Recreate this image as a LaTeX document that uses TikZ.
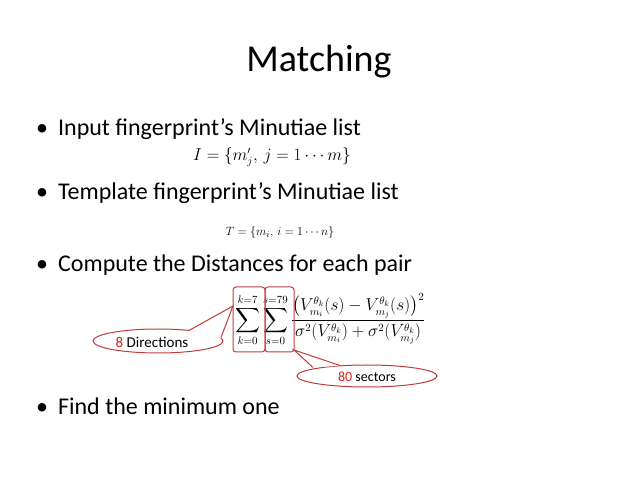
\documentclass[tikz,border=0pt]{standalone}
\usepackage{fontspec}
\setmainfont{Carlito}
\usepackage{amsmath}
\definecolor{cred}{RGB}{192,60,60}
\definecolor{tred}{RGB}{220,30,30}
\begin{document}
\begin{tikzpicture}[x=1pt,y=-1pt,
  bul/.style={anchor=west,font=\fontsize{24}{28}\selectfont,inner sep=0},
  frm/.style={inner sep=0},
  sbox/.style={draw=cred,line width=1pt,rounded corners=3pt},
  callout/.style={draw=cred,line width=1pt,fill=white}]
\useasboundingbox (0,0) rectangle (638,478);
\node[font=\fontsize{38}{44}\selectfont] (title) at (319,62) {Matching};
\node[bul] (b1) at (36,129) {•\hspace{10pt}Input fingerprint’s Minutiae list};
\node[bul] (b2) at (36,193) {•\hspace{10pt}Template fingerprint’s Minutiae list};
\node[bul] (b3) at (36,265) {•\hspace{10pt}Compute the Distances for each pair};
\node[bul] (b4) at (36,406) {•\hspace{10pt}Find the minimum one};
\node[frm,font=\fontsize{16}{18}\selectfont] (fI) at (272,157) {$I=\{m'_j,\,j=1\cdots m\}$};
\node[frm,font=\fontsize{13}{15}\selectfont] (fT) at (280,233) {$T=\{m_i,\,i=1\cdots n\}$};
\node[frm,anchor=west,font=\fontsize{16}{19}\selectfont] (fs) at (235,320)
 {$\displaystyle\sum_{k=0}^{k=7}\sum_{s=0}^{s=79}\frac{\bigl(V_{m_i}^{\theta_k}(s)-V_{m_j}^{\theta_k}(s)\bigr)^2}{\sigma^2(V_{m_i}^{\theta_k})+\sigma^2(V_{m_j}^{\theta_k})}$};
\draw[sbox] (233,287) rectangle (265,352);
\draw[sbox] (265,287) rectangle (294,352);
% callout 1
\draw[callout] (158,341) ellipse [x radius=65,y radius=12];
\coordinate (t1) at (233,306);
\fill[white] (189,331) -- (t1) -- (221,338) -- cycle;
\draw[cred,line width=1pt] (189,330.5) -- (t1) -- (221,337.5);
\node[font=\fontsize{15}{17}\selectfont] (l1) at (152,342) {\textcolor{tred}{8} Directions};
% callout 2
\draw[callout] (367,376) ellipse [x radius=70,y radius=11];
\coordinate (t2) at (294,350);
\fill[white] (313,367) -- (t2) -- (340,366) -- cycle;
\draw[cred,line width=1pt] (313,367.5) -- (t2) -- (340,365.5);
\node[font=\fontsize{14}{16}\selectfont] (l2) at (367,377) {\textcolor{tred}{80} sectors};
\end{tikzpicture}
\end{document}
